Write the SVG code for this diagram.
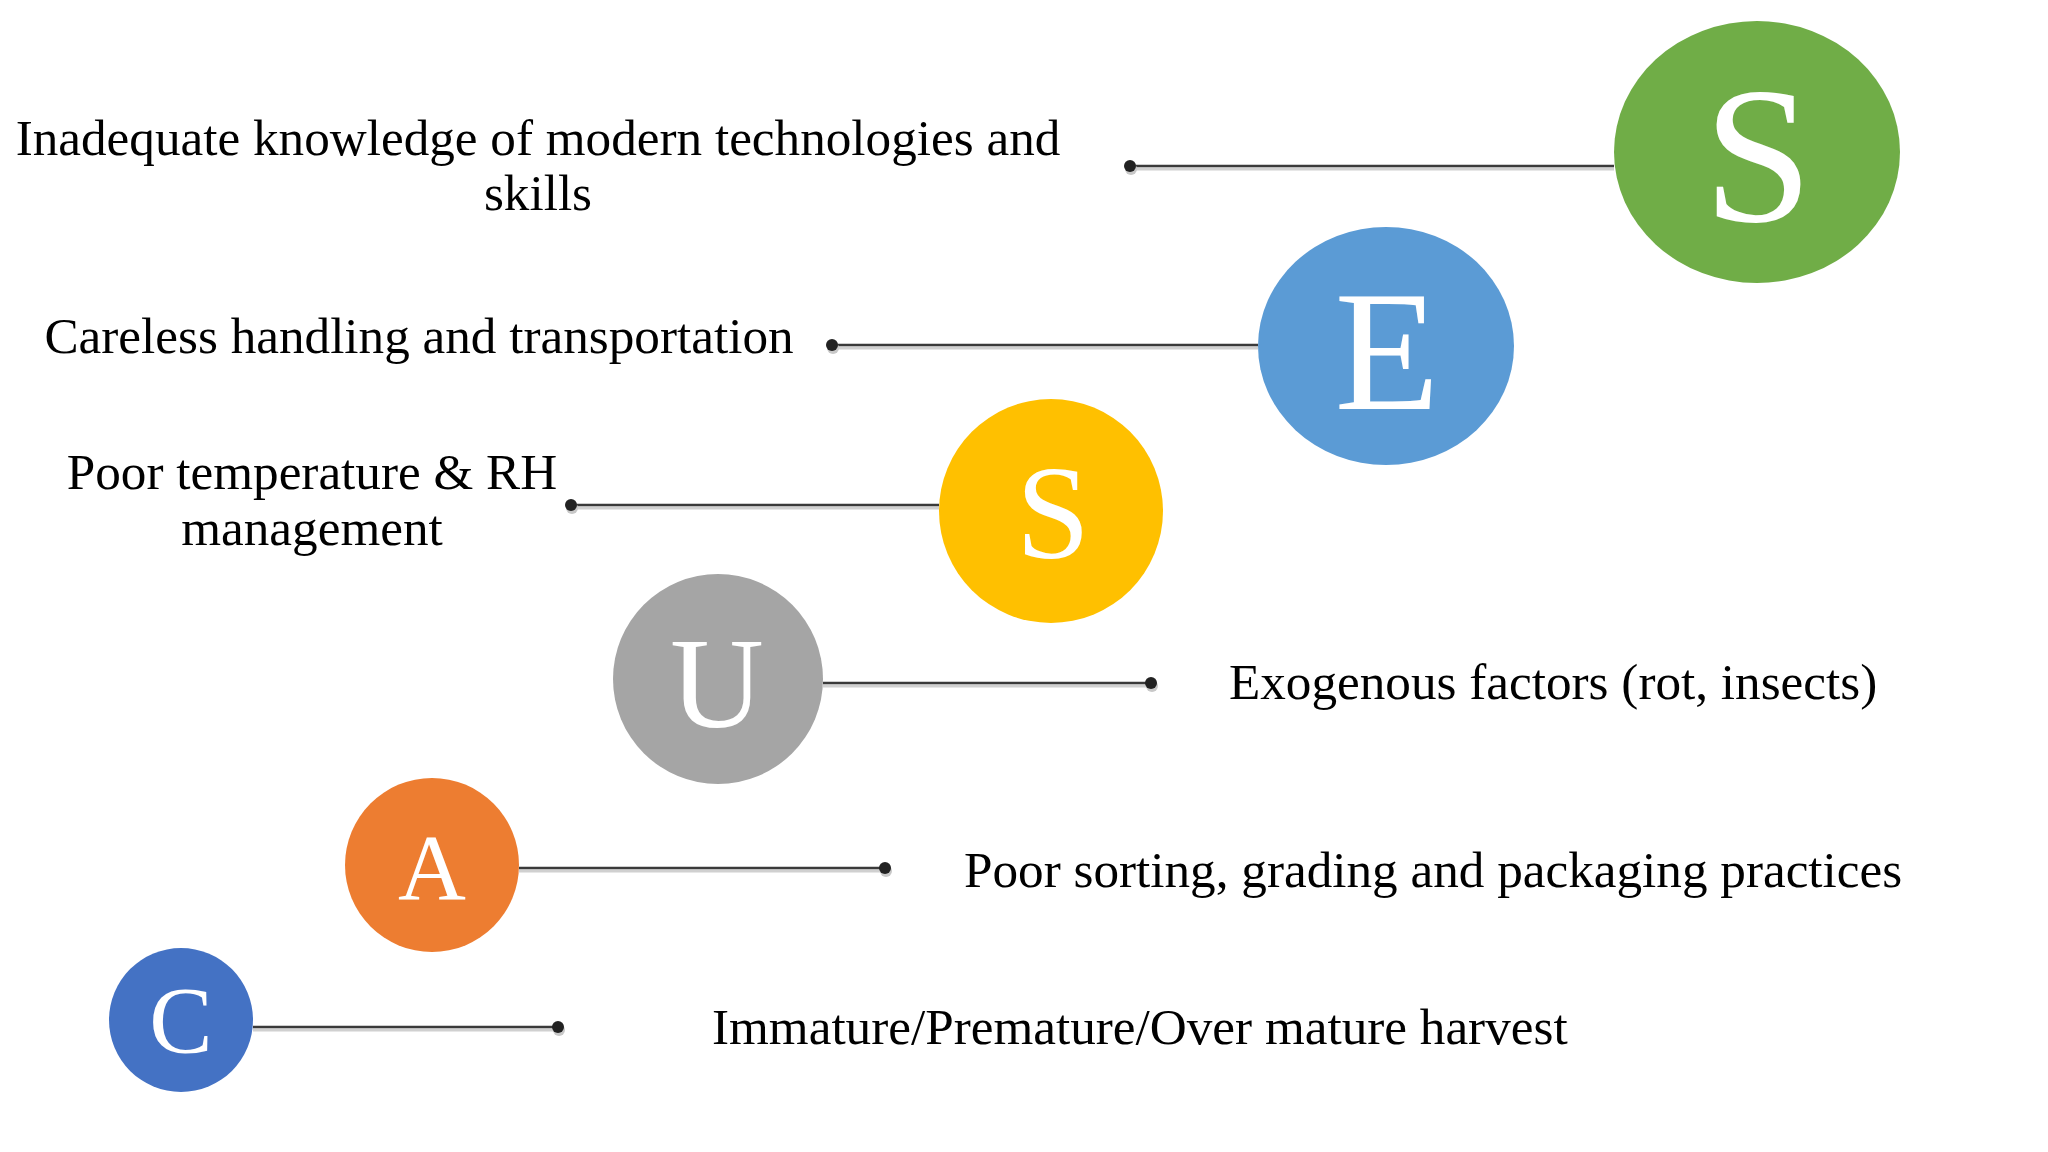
<svg xmlns="http://www.w3.org/2000/svg" width="2048" height="1152" viewBox="0 0 2048 1152">
<defs>
<style>
.lbl{font-family:"Liberation Serif","Times New Roman",serif;font-size:51.2px;fill:#000}
.ltr{font-family:"Liberation Serif","Times New Roman",serif;fill:#fff;text-anchor:middle}
.ln{stroke:#3a3a3a;stroke-width:2.5;fill:none}
.sh{stroke:#d0d0d0;stroke-width:3;fill:none}
.dot{fill:#222}
.dsh{fill:#c8c8c8}
</style>
</defs>
<rect width="2048" height="1152" fill="#fff"/>
<g id="connectors">
<line class="sh" x1="1130" y1="169" x2="1614" y2="169"/>
<line class="ln" x1="1130" y1="166" x2="1614" y2="166"/>
<circle class="dsh" cx="1131" cy="169" r="6"/><circle class="dot" cx="1130" cy="166" r="6"/>
<line class="sh" x1="832" y1="348" x2="1258" y2="348"/>
<line class="ln" x1="832" y1="345" x2="1258" y2="345"/>
<circle class="dsh" cx="833" cy="348" r="6"/><circle class="dot" cx="832" cy="345" r="6"/>
<line class="sh" x1="571" y1="508" x2="939" y2="508"/>
<line class="ln" x1="571" y1="505" x2="939" y2="505"/>
<circle class="dsh" cx="572" cy="508" r="6"/><circle class="dot" cx="571" cy="505" r="6"/>
<line class="sh" x1="823" y1="686" x2="1151" y2="686"/>
<line class="ln" x1="823" y1="683" x2="1151" y2="683"/>
<circle class="dsh" cx="1152" cy="686" r="6"/><circle class="dot" cx="1151" cy="683" r="6"/>
<line class="sh" x1="519" y1="871" x2="885" y2="871"/>
<line class="ln" x1="519" y1="868" x2="885" y2="868"/>
<circle class="dsh" cx="886" cy="871" r="6"/><circle class="dot" cx="885" cy="868" r="6"/>
<line class="sh" x1="253" y1="1030" x2="558" y2="1030"/>
<line class="ln" x1="253" y1="1027" x2="558" y2="1027"/>
<circle class="dsh" cx="559" cy="1030" r="6"/><circle class="dot" cx="558" cy="1027" r="6"/>
</g>
<g id="node-s1">
<ellipse cx="1757" cy="152" rx="143" ry="131" fill="#70AD47"/>
<text class="ltr" x="1758" y="221" font-size="196">S</text>
</g>
<g id="node-e">
<ellipse cx="1386" cy="346" rx="128" ry="119" fill="#5B9BD5"/>
<text class="ltr" x="1387" y="409" font-size="172">E</text>
</g>
<g id="node-s2">
<circle cx="1051" cy="511" r="112" fill="#FFC000"/>
<text class="ltr" x="1053" y="558" font-size="133">S</text>
</g>
<g id="node-u">
<circle cx="718" cy="679" r="105" fill="#A5A5A5"/>
<text class="ltr" x="717" y="727" font-size="130">U</text>
</g>
<g id="node-a">
<circle cx="432" cy="865" r="87" fill="#ED7D31"/>
<text class="ltr" x="432" y="899" font-size="94">A</text>
</g>
<g id="node-c">
<circle cx="181" cy="1020" r="72" fill="#4472C4"/>
<text class="ltr" x="181" y="1053" font-size="95">C</text>
</g>
<g id="labels">
<text class="lbl" x="538" y="155" text-anchor="middle">Inadequate knowledge of modern technologies and</text>
<text class="lbl" x="538" y="210" text-anchor="middle">skills</text>
<text class="lbl" x="419" y="353" text-anchor="middle">Careless handling and transportation</text>
<text class="lbl" x="312" y="489" text-anchor="middle">Poor temperature &amp; RH</text>
<text class="lbl" x="312" y="545" text-anchor="middle">management</text>
<text class="lbl" x="1229" y="699">Exogenous factors (rot, insects)</text>
<text class="lbl" x="964" y="887">Poor sorting, grading and packaging practices</text>
<text class="lbl" x="712" y="1044">Immature/Premature/Over mature harvest</text>
</g>
</svg>
